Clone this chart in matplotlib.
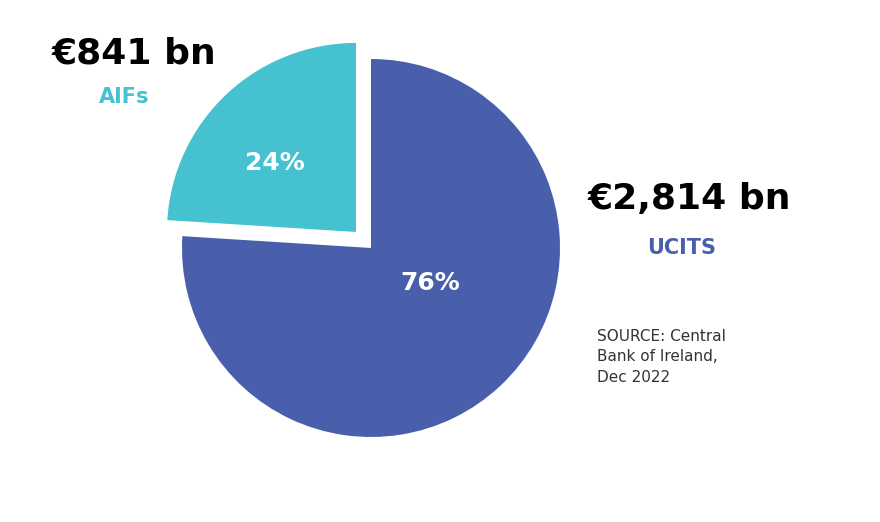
import matplotlib.pyplot as plt

# Irish fund assets, Dec 2022
categories = ['UCITS', 'AIFs']
shares = [76, 24]
amount_labels = ['€2,814 bn', '€841 bn']
colors = ['#4a5fab', '#45c1cf']

plt.rcParams['font.family'] = ['DejaVu Sans']

H = 522  # figure height in px, used to flip y so text coords read like the picture

fig = plt.figure(figsize=(8.8, 5.22), dpi=100)
ax = fig.add_axes([0, 0, 1, 1])

# explode is in data units here (radius is 189 px)
wedges, texts = ax.pie(shares, colors=colors, startangle=90, counterclock=False,
                       explode=[0, 22], radius=189, center=(371, H - 248),
                       wedgeprops=dict(linewidth=0))
ax.set_xlim(0, 880)
ax.set_ylim(0, H)
ax.set_aspect('equal')
ax.axis('off')

# percent labels inside wedges
ax.text(430, H - 290, f'{shares[0]}%', color='white', fontsize=18, fontweight='bold',
        ha='center', va='baseline')
ax.text(275, H - 170, f'{shares[1]}%', color='white', fontsize=18, fontweight='bold',
        ha='center', va='baseline')

# amounts and names
ax.text(134, H - 63, amount_labels[1], fontsize=26, fontweight='bold', color='black',
        ha='center', va='baseline')
ax.text(124, H - 103, categories[1], fontsize=15, fontweight='bold', color=colors[1],
        ha='center', va='baseline')
ax.text(689, H - 209, amount_labels[0], fontsize=26, fontweight='bold', color='black',
        ha='center', va='baseline')
ax.text(682, H - 254, categories[0], fontsize=15, fontweight='bold', color=colors[0],
        ha='center', va='baseline')

ax.text(597, H - 329, 'SOURCE: Central\nBank of Ireland,\nDec 2022', fontsize=11,
        color='#333333', ha='left', va='top', linespacing=1.45)

fig.savefig('out.png', dpi=100)
